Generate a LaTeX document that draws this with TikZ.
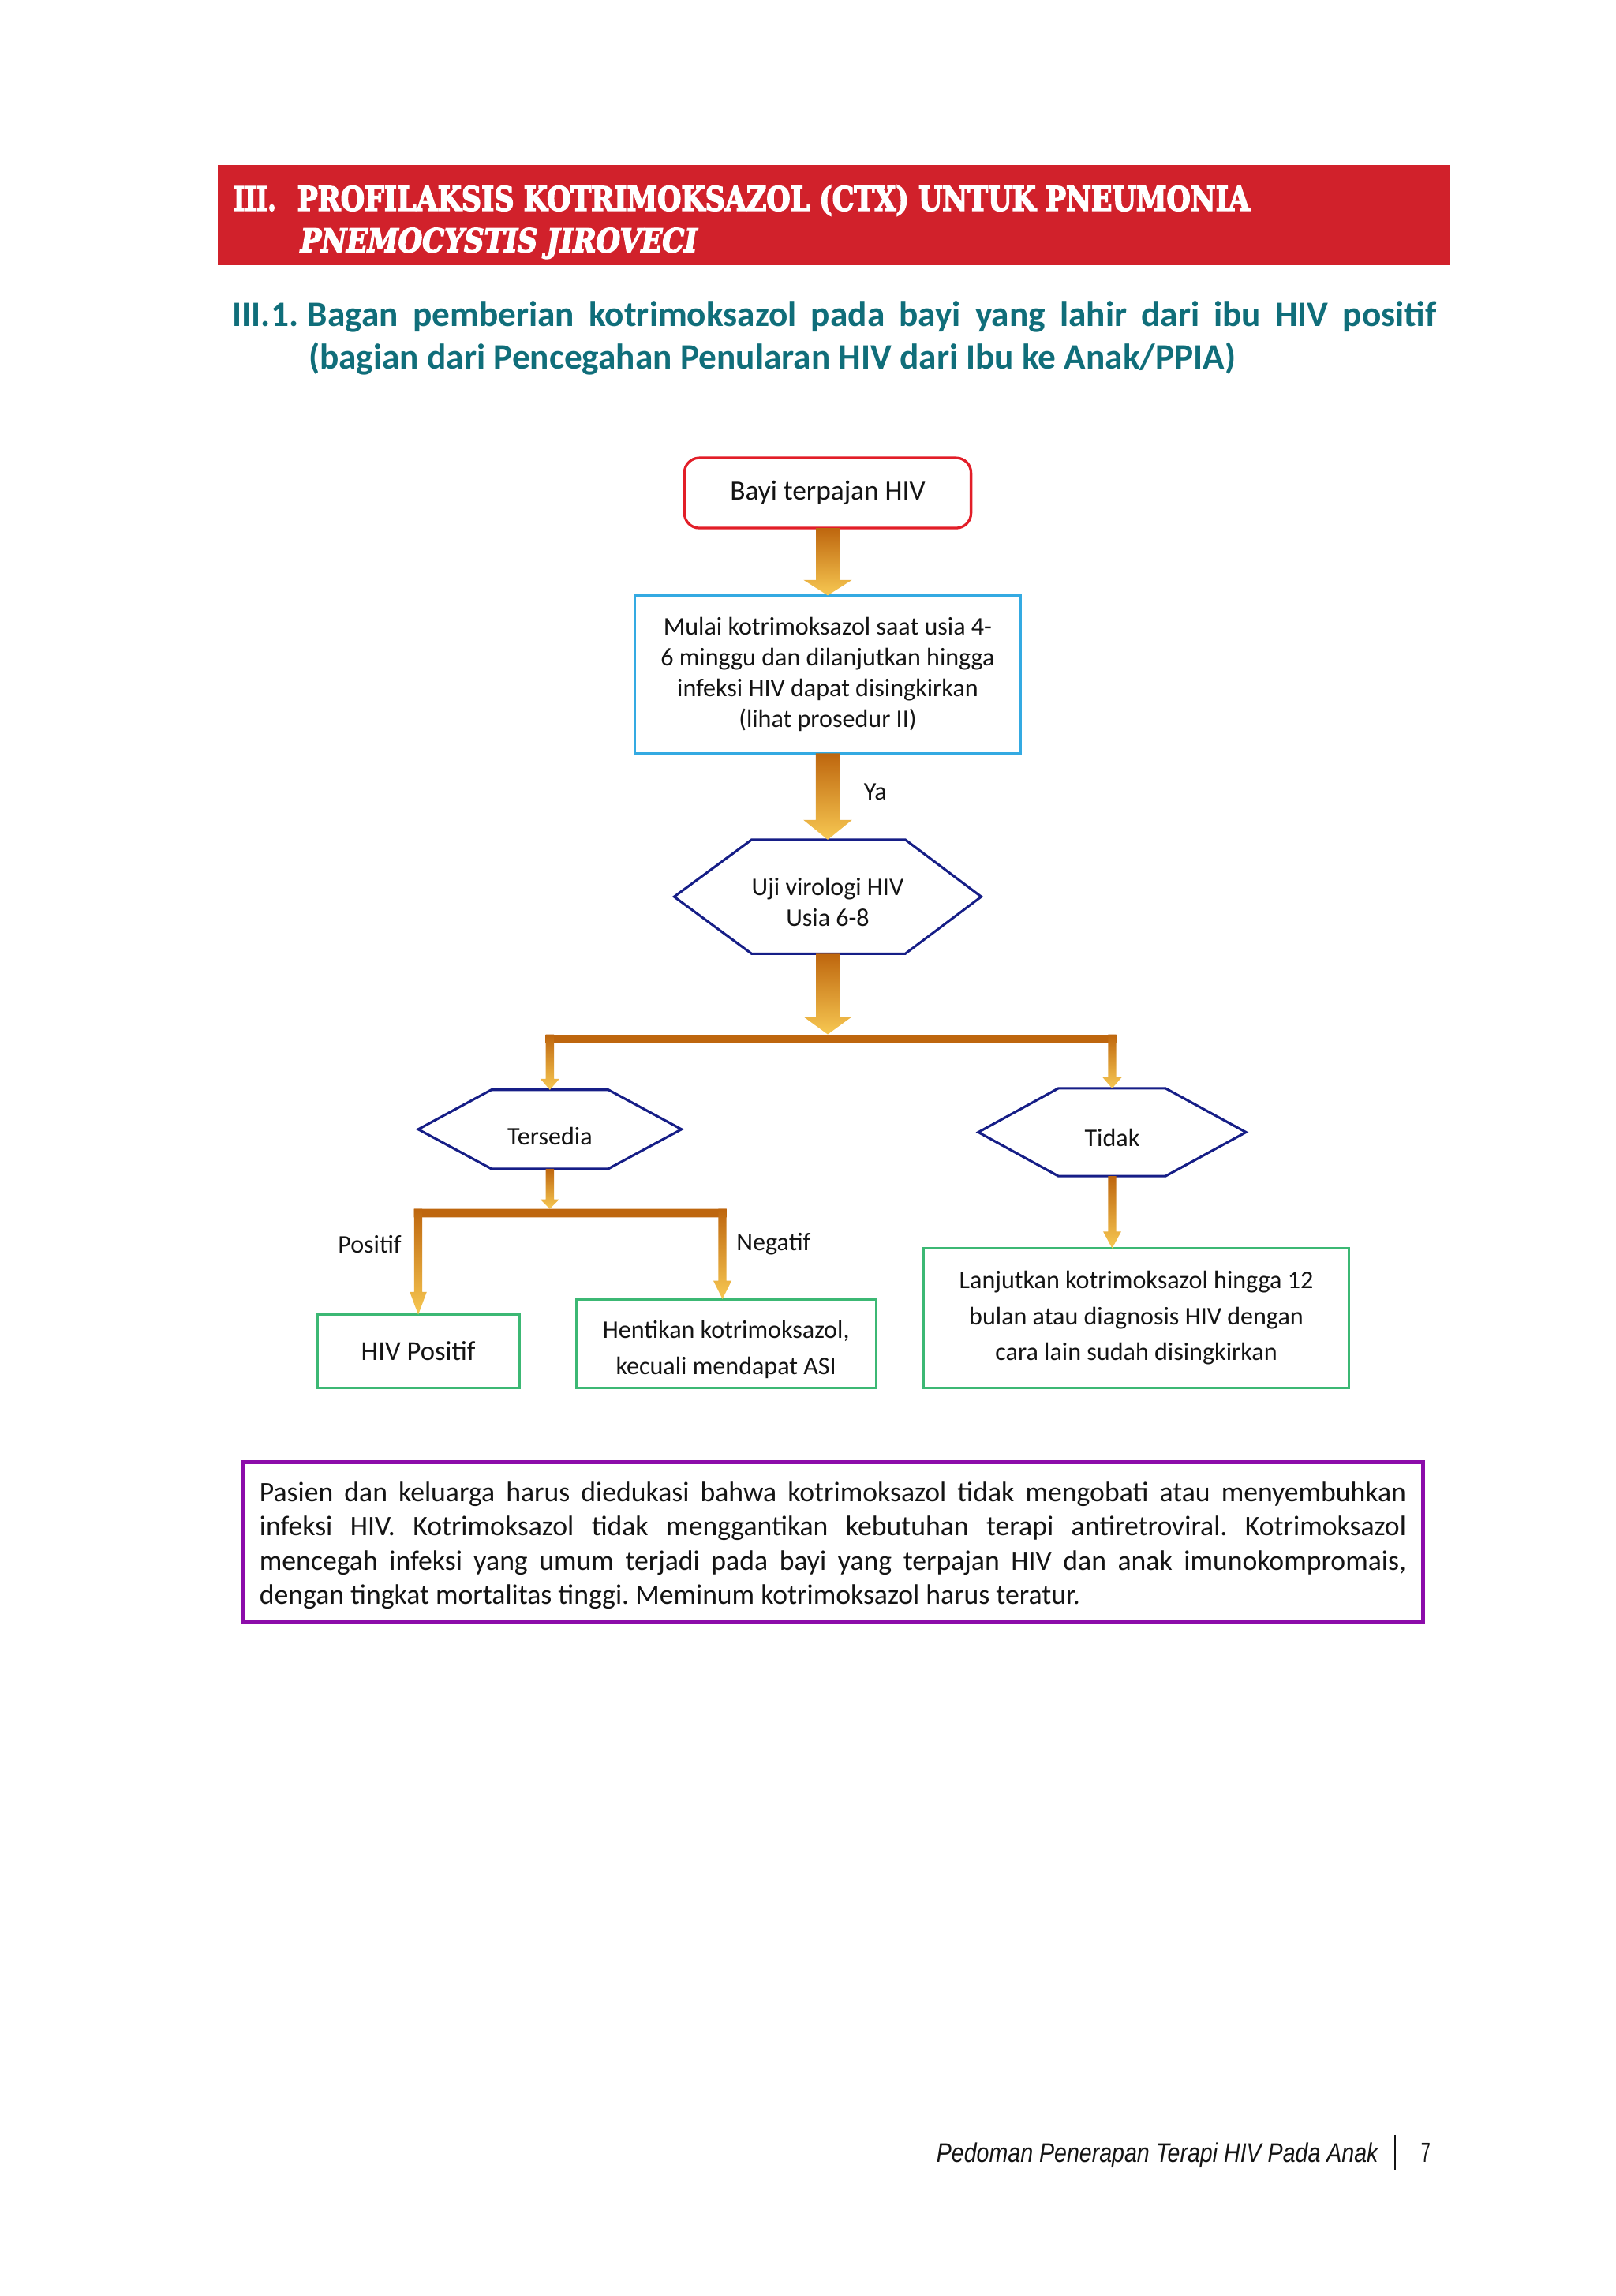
\documentclass[tikz,border=0pt]{standalone}
\usepackage{fontspec}
\usepackage{graphicx}
\setmainfont{Carlito}
\newfontfamily\titlefont{DejaVu Serif}[FakeBold=4]
\newfontfamily\titleslfont{DejaVu Serif}[FakeSlant=0.2,FakeBold=4]
\newfontfamily\footfont{Liberation Sans}
\usetikzlibrary{calc}
\definecolor{hdrred}{RGB}{209,33,43}
\definecolor{subteal}{RGB}{16,110,122}
\definecolor{adark}{RGB}{190,102,14}
\definecolor{alight}{RGB}{247,200,82}
\definecolor{bayired}{RGB}{226,30,40}
\definecolor{mulaiblue}{RGB}{52,170,226}
\definecolor{hexnavy}{RGB}{22,30,135}
\definecolor{boxgreen}{RGB}{60,184,116}
\definecolor{notepurple}{RGB}{140,12,170}
\definecolor{inkblack}{RGB}{20,20,20}
\newcommand\unitpt{0.54pt}
% #1 start, #2 tip, #3 shaft half width, #4 head half width, #5 head length
\newcommand\fatarrow[5]{%
  \shade[top color=adark, bottom color=alight]
    ($(#1)+(-#3,0)$) -- ($(#1)+(#3,0)$) -- ($(#2)+(#3,-#5)$) -- ($(#2)+(#4,-#5)$)
    -- (#2) -- ($(#2)+(-#4,-#5)$) -- ($(#2)+(-#3,-#5)$) -- cycle;}
% hexagon around a node: #1 node, #2 left inset, #3 right inset
\newcommand\hexdraw[3]{%
  \draw[hexline] (#1.west) -- ($(#1.north west)+(#2,0)$) -- ($(#1.north east)+(-#3,0)$)
    -- (#1.east) -- ($(#1.south east)+(-#3,0)$) -- ($(#1.south west)+(#2,0)$) -- cycle;}
\tikzset{
  flowtxt/.style={font=\fontsize{9.35pt}{11.3pt}\selectfont},
  boxnode/.style={draw, line width=0.95pt, fill=white, align=center},
  hexnode/.style={draw=none, align=center, flowtxt},
  hexline/.style={draw=hexnavy, line width=0.9pt, line join=miter},
  barline/.style={draw=adark, line width={5.8*\unitpt}, line cap=butt},
  subtxt/.style={anchor=base west, text=subteal, font=\fontsize{13.2pt}{15.8pt}\selectfont\bfseries},
  hdrtxt/.style={anchor=base west, text=white}
}
\frenchspacing
\begin{document}
\frenchspacing
\begin{tikzpicture}[x=0.54pt,y=-0.54pt,
  every node/.style={inner sep=0pt,outer sep=0pt,text=inkblack}]
\useasboundingbox (0,0) rectangle (1105,1569.6);
\fill[white] (0,0) rectangle (1105,1569.6);

% ---------- header banner ----------
\node[fill=hdrred, minimum width={842.5*\unitpt}, minimum height={68.5*\unitpt}] (banner) at (570.25,147.25) {};
\node[hdrtxt] (hdrnum) at (159.7,143.9) {\resizebox{15.7pt}{8.9pt}{\titlefont\bfseries III.}};
\node[hdrtxt] (hdrone) at (203.2,143.9) {\resizebox{351.8pt}{9.3pt}{\titlefont\bfseries PROFILAKSIS KOTRIMOKSAZOL (CTX) UNTUK PNEUMONIA}};
\node[hdrtxt] (hdrtwo) at (204.1,172.3) {\resizebox{146.5pt}{8.9pt}{\titleslfont\bfseries PNEMOCYSTIS JIROVECI}};

% ---------- subtitle ----------
\node[subtxt] (subnum) at (159,223) {III.1.};
\node[subtxt] (subone) at (210.4,223) {\makebox[416.7pt][s]{Bagan pemberian kotrimoksazol pada bayi yang lahir dari ibu HIV positif}};
\node[subtxt] (subtwo) at (211,252) {(bagian dari Pencegahan Penularan HIV dari Ibu ke Anak/PPIA)};

% ---------- flowchart nodes ----------
\node[boxnode, draw=bayired, rounded corners=5.5pt, minimum width={196*\unitpt}, minimum height={48*\unitpt},
      font=\fontsize{10.3pt}{12.4pt}\selectfont] (bayi) at (566,337) {Bayi terpajan HIV};
\node[boxnode, draw=mulaiblue, minimum width={264*\unitpt}, minimum height={108*\unitpt}, flowtxt] (mulai) at (566,461)
  {Mulai kotrimoksazol saat usia 4-\\6 minggu dan dilanjutkan hingga\\infeksi HIV dapat disingkirkan\\(lihat prosedur II)};
\node[hexnode, minimum width={210*\unitpt}, minimum height={78*\unitpt}] (uji) at (566,613) {\rule{0pt}{10.3pt}Uji virologi HIV\\Usia 6-8};
\hexdraw{uji}{53}{52}
\node[hexnode, minimum width={180*\unitpt}, minimum height={54*\unitpt}] (tersedia) at (376,772) {\rule{0pt}{11.4pt}Tersedia};
\hexdraw{tersedia}{50}{50}
\node[hexnode, minimum width={183*\unitpt}, minimum height={60*\unitpt}] (tidak) at (760.5,774) {\rule{0pt}{10.6pt}Tidak};
\hexdraw{tidak}{54.7}{55}
\node[boxnode, draw=boxgreen, minimum width={138*\unitpt}, minimum height={50*\unitpt},
      font=\fontsize{10.1pt}{12.2pt}\selectfont] (hivpos) at (286,923.7) {HIV Positif};
\node[boxnode, draw=boxgreen, minimum width={205*\unitpt}, minimum height={60.7*\unitpt},
      font=\fontsize{9.35pt}{13.6pt}\selectfont] (hentikan) at (496.5,918.4) {\rule{0pt}{11.1pt}Hentikan kotrimoksazol,\\kecuali mendapat ASI};
\node[boxnode, draw=boxgreen, minimum width={290.5*\unitpt}, minimum height={95.3*\unitpt},
      font=\fontsize{9.35pt}{13.2pt}\selectfont] (lanjut) at (777,901)
  {Lanjutkan kotrimoksazol hingga 12\\bulan atau diagnosis HIV dengan\\cara lain sudah disingkirkan};

% labels
\node[flowtxt] (ya) at (598.5,541.5) {Ya};
\node[flowtxt] (pos) at (252.8,850.7) {Positif};
\node[flowtxt] (neg) at (529,850.7) {Negatif};

% ---------- connectors ----------
\fatarrow{bayi.south}{mulai.north}{8}{16.5}{10.5}
\fatarrow{mulai.south}{uji.north}{8.1}{16.6}{13.5}
\coordinate (bar1) at (566,710);
\coordinate (bar1top) at ($(uji.south |- bar1)+(0,-2.9)$);
\fatarrow{uji.south}{bar1top}{8}{16.5}{12}
\draw[barline] ($(tersedia.north |- bar1)+(-2.9,0)$) -- ($(tidak.north |- bar1)+(2.9,0)$);
\coordinate (d1) at ($(tersedia.north |- bar1)+(0,-2.9)$);
\coordinate (d2) at ($(tidak.north |- bar1)+(0,-2.9)$);
\fatarrow{d1}{tersedia.north}{2.8}{6.5}{7.5}
\fatarrow{d2}{tidak.north}{2.8}{6.5}{7.5}

\coordinate (bar2) at (376,829.3);
\coordinate (bar2top) at ($(tersedia.south |- bar2)+(0,-2.9)$);
\fatarrow{tersedia.south}{bar2top}{2.8}{6.5}{6.5}
\coordinate (d3) at ($(hivpos.north |- bar2)+(0,-2.9)$);
\coordinate (d4) at (494,826.4);
\coordinate (d4tip) at (d4 |- hentikan.north);
\draw[barline] ($(d3)+(-2.9,2.9)$) -- ($(d4)+(2.9,2.9)$);
\fatarrow{d3}{hivpos.north}{2.8}{5.8}{15.5}
\fatarrow{d4}{d4tip}{2.8}{6.2}{12.5}
\coordinate (d5tip) at (tidak.south |- lanjut.north);
\fatarrow{tidak.south}{d5tip}{2.8}{6.2}{11.5}

% ---------- note box ----------
\node[draw=notepurple, line width=1.45pt, minimum width={807*\unitpt}, minimum height={109*\unitpt}] (note) at (569.5,1054)
 {\parbox{423.4pt}{\fontsize{10.4pt}{12.6pt}\selectfont\frenchspacing
  \vspace*{2.7pt}%
  \makebox[423.4pt][s]{Pasien dan keluarga harus diedukasi bahwa kotrimoksazol tidak mengobati atau menyembuhkan}\\
  \makebox[423.4pt][s]{infeksi HIV. Kotrimoksazol tidak menggantikan kebutuhan terapi antiretroviral. Kotrimoksazol}\\
  \makebox[423.4pt][s]{mencegah infeksi yang umum terjadi pada bayi yang terpajan HIV dan anak imunokompromais,}\\
  dengan tingkat mortalitas tinggi. Meminum kotrimoksazol harus teratur.}};

% ---------- footer ----------
\node[anchor=base east] (foot) at (942.4,1478) {\scalebox{0.841}[1]{\footfont\itshape\fontsize{9.9pt}{12pt}\selectfont Pedoman Penerapan Terapi HIV Pada Anak}};
\coordinate (sepA) at (954,1459.5);
\coordinate (sepB) at (954,1483.3);
\draw[line width=0.6pt, draw=inkblack] (sepA) -- (sepB);
\node[anchor=base] (pgnum) at (975,1478) {\scalebox{0.62}[1]{\footfont\fontsize{10.2pt}{12pt}\selectfont 7}};
\end{tikzpicture}
\end{document}
